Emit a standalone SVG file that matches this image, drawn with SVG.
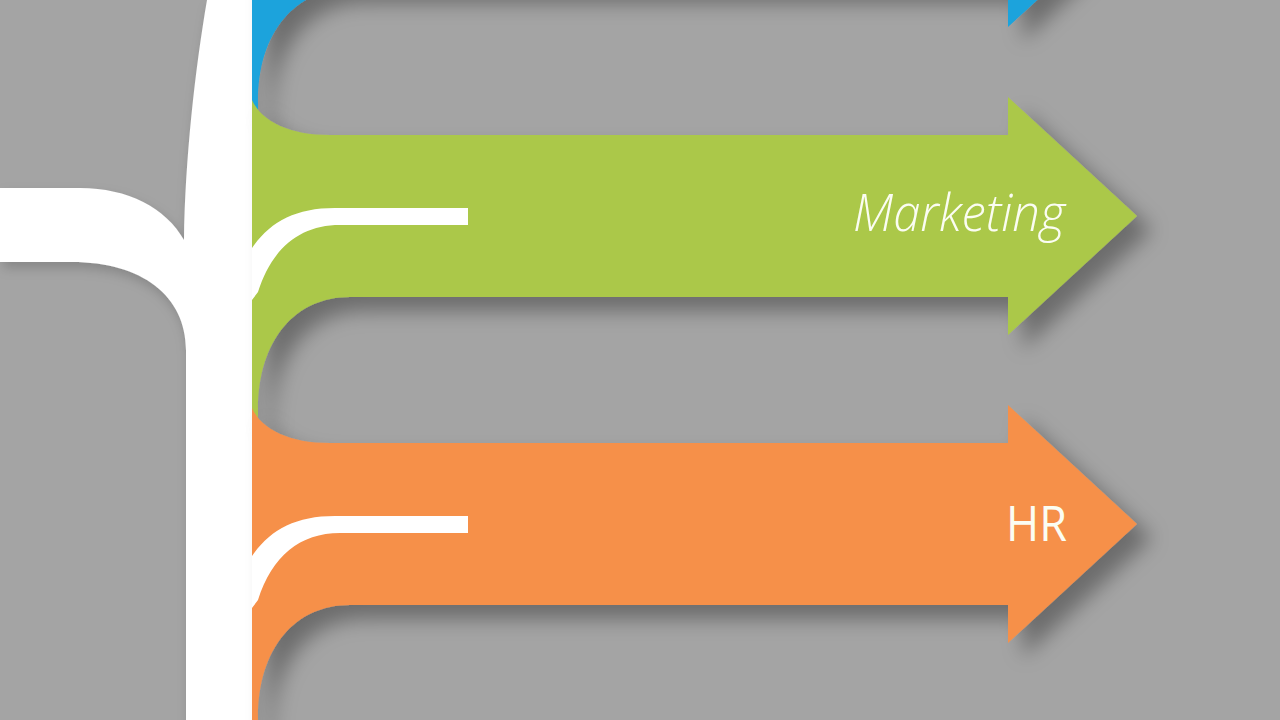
<svg xmlns="http://www.w3.org/2000/svg" width="1280" height="720" viewBox="0 0 1280 720">
  <defs>
    <filter id="shadow" x="-10%" y="-20%" width="130%" height="160%">
      <feDropShadow dx="15" dy="14" stdDeviation="10" flood-color="#000" flood-opacity="0.34"/>
    </filter>
    <filter id="softShadow" x="-10%" y="-10%" width="130%" height="130%">
      <feDropShadow dx="3" dy="6" stdDeviation="6" flood-color="#000" flood-opacity="0.18"/>
    </filter>
    <style>
      .bg { fill: #a4a4a4; }
      .white { fill: #ffffff; }
      .blue { fill: #1ba3dc; }
      .green { fill: #abc84a; }
      .orange { fill: #f6904a; }
      .label { fill: #fbfdf2; }
    </style>
  </defs>
  <rect class="bg" x="0" y="0" width="1280" height="720"/>

  <g id="connectors">
    <path class="white" filter="url(#softShadow)" d="M 207,0 L 252,0 L 252,720 L 186,720 L 186,350 C 186,296 142,262 72,262 L 0,262 L 0,188 L 80,188 C 128,188 166,208 184,240 C 185,160 195,70 207,0 Z"/>
  </g>

  <g id="arrow-blue">
    <path class="blue" filter="url(#shadow)" d="M 252,-208 C 262,-186 290,-173 330,-173 L 1008,-173 L 1008,-211 L 1137,-92 L 1008,27 L 1008,-11 L 350,-11 C 295,-11 258,32 258,102 L 258,112 L 252,112 Z"/>
  </g>

  <g id="arrow-green">
    <path class="green" filter="url(#shadow)" d="M 252,100 C 262,122 290,135 330,135 L 1008,135 L 1008,97 L 1137,216 L 1008,335 L 1008,297 L 350,297 C 295,297 258,340 258,410 L 258,420 L 252,420 Z"/>
    <path class="white" d="M 252,248 C 270,222 295,208 335,208 L 468,208 L 468,225 L 340,225 C 300,225 272,248 258,292 L 252,300 Z"/>
    <text class="label" x="853" y="231" font-family="'Open Sans', 'DejaVu Sans', sans-serif" font-style="italic" font-weight="300" font-size="52" textLength="212" lengthAdjust="spacingAndGlyphs">Marketing</text>
  </g>

  <g id="arrow-orange">
    <path class="orange" filter="url(#shadow)" d="M 252,408 C 262,430 290,443 330,443 L 1008,443 L 1008,405 L 1137,524 L 1008,643 L 1008,605 L 350,605 C 295,605 258,648 258,718 L 258,740 L 252,740 Z"/>
    <path class="white" d="M 252,556 C 270,530 295,516 335,516 L 468,516 L 468,533 L 340,533 C 300,533 272,556 258,600 L 252,608 Z"/>
    <text class="label" x="1006" y="541" font-family="'Open Sans', 'DejaVu Sans', sans-serif" font-weight="400" font-size="50" textLength="61" lengthAdjust="spacingAndGlyphs">HR</text>
  </g>
</svg>
